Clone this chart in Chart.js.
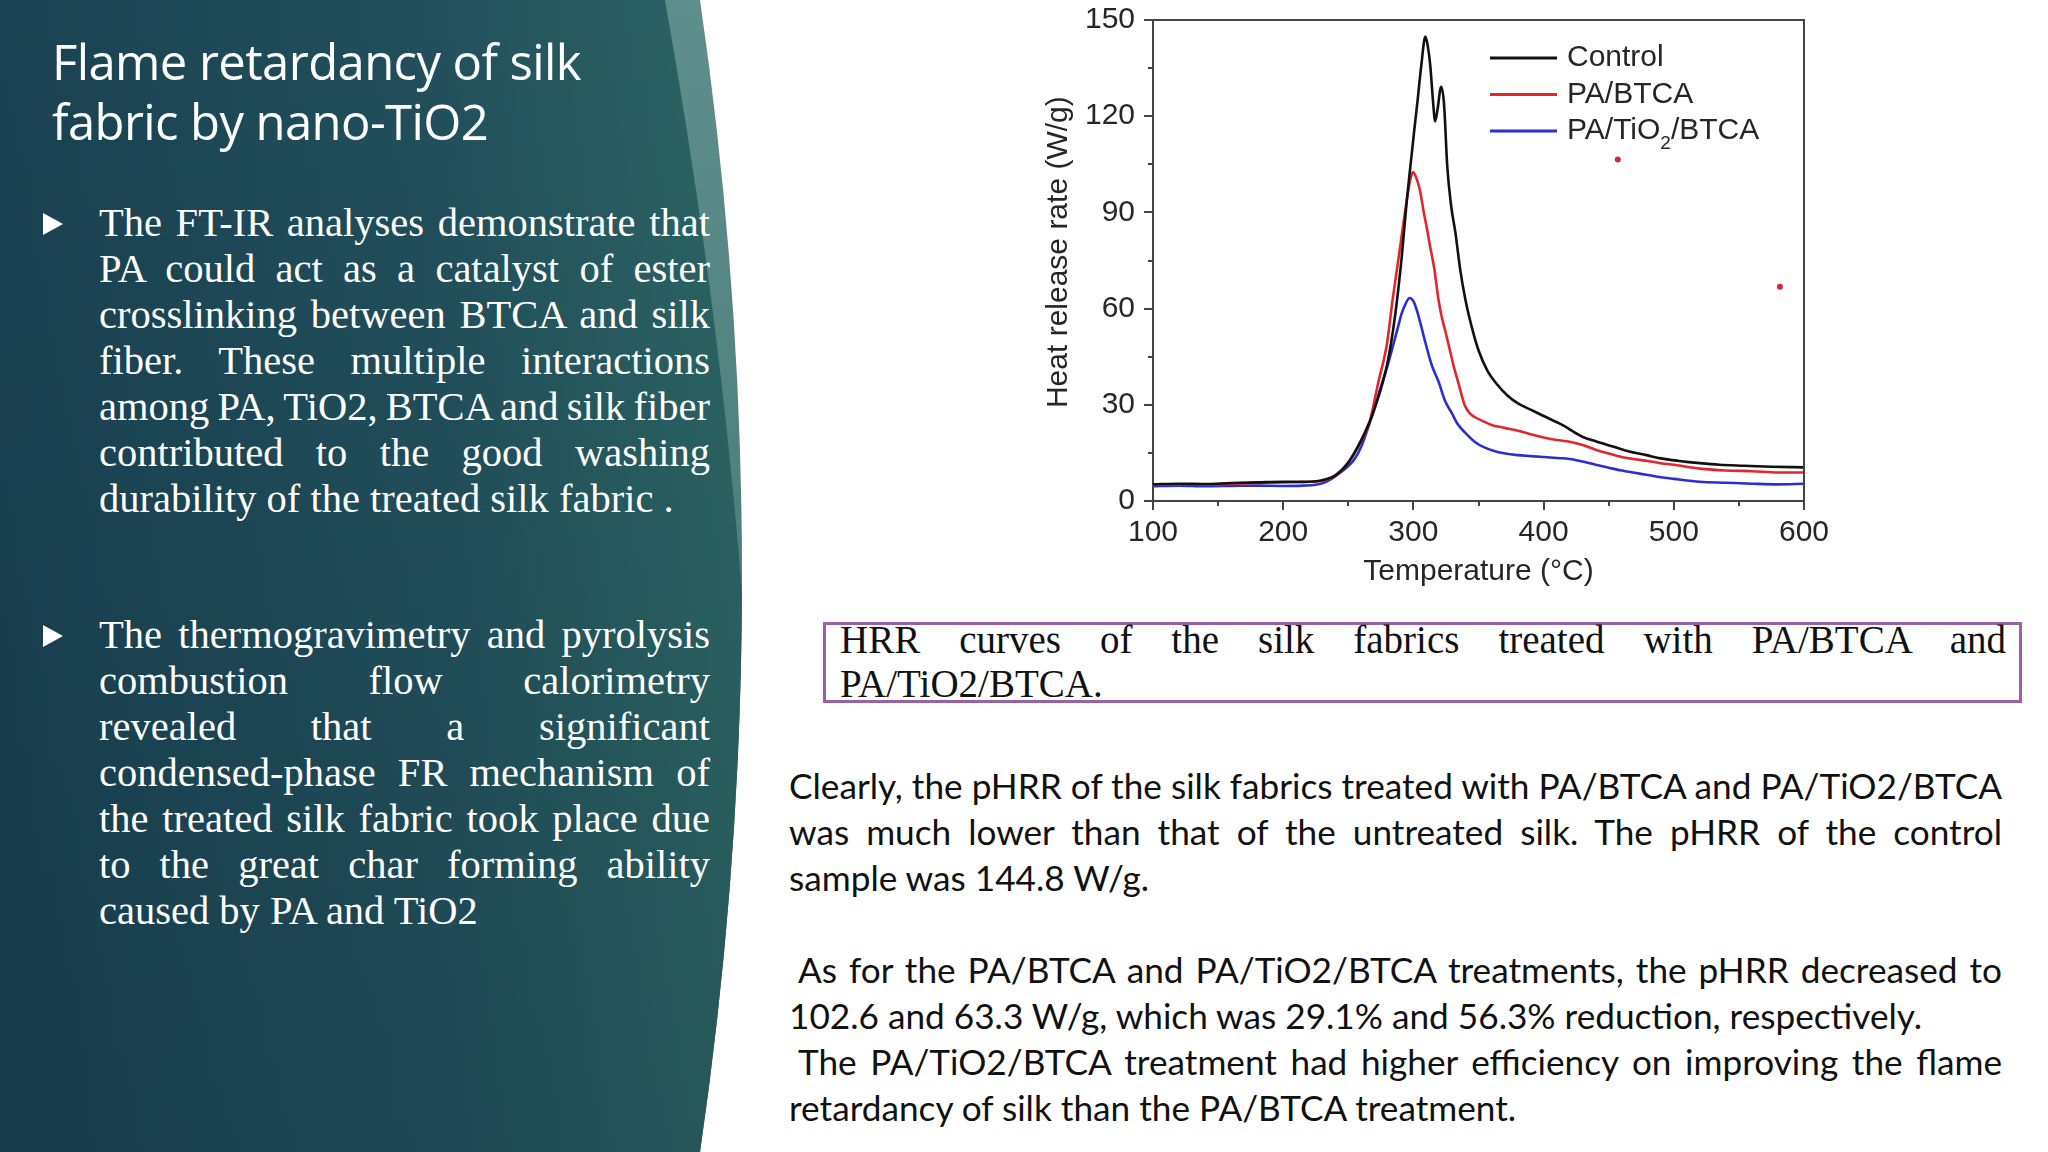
<!DOCTYPE html>
<html>
<head>
<meta charset="utf-8">
<script src="https://cdn.jsdelivr.net/npm/chart.js@4.4.1/dist/chart.umd.min.js"></script>
<style>
  html, body { margin: 0; padding: 0; }
  body { width: 2048px; height: 1152px; position: relative; overflow: hidden; background: #fff; }
  #bg { position: absolute; left: 0; top: 0; }
  .title { position: absolute; left: 52px; top: 31px; color: #fff; font-family: "Open Sans"; font-size: 49px; line-height: 60px; letter-spacing: -0.6px; }
  .para { position: absolute; left: 99px; width: 611px; color: #fff; font-family: "Liberation Serif"; font-size: 40.5px; line-height: 46px; }
  .para div, .caption .txt div, .body div { white-space: nowrap; }
  .tri { position: absolute; left: 43px; width: 0; height: 0; border-top: 11px solid transparent; border-bottom: 11px solid transparent; border-left: 20px solid #fff; }
  .caption { position: absolute; left: 823px; top: 622px; width: 1193px; height: 75px; border: 3px solid #9a62a6; }
  .caption .txt { position: absolute; left: 14px; top: -7px; width: 1166px; font-family: "Liberation Serif"; font-size: 39px; line-height: 44px; color: #111; }
  .body { position: absolute; left: 789px; top: 762px; width: 1213px; font-family: "Lato"; font-size: 35.2px; line-height: 46px; color: #111; }
  .ind { padding-left: 9px; }
  #wrap { position: absolute; left: 1030px; top: 0; width: 800px; height: 600px; }
</style>
</head>
<body>
<svg id="bg" width="2048" height="1152">
  <defs>
    <linearGradient id="panel" x1="0" y1="0" x2="1" y2="0">
      <stop offset="0" stop-color="#1a4252"/>
      <stop offset="0.55" stop-color="#22505c"/>
      <stop offset="1" stop-color="#2f6a66"/>
    </linearGradient>
    <linearGradient id="shade" x1="0" y1="0" x2="0" y2="1">
      <stop offset="0" stop-color="#0a1e2a" stop-opacity="0"/>
      <stop offset="1" stop-color="#0a1e2a" stop-opacity="0.18"/>
    </linearGradient>
    <linearGradient id="stripe" x1="0" y1="0" x2="0" y2="1">
      <stop offset="0" stop-color="#5f8f8d"/>
      <stop offset="0.55" stop-color="#4a7d79"/>
      <stop offset="1" stop-color="#2f6763"/>
    </linearGradient>
    <clipPath id="outer"><path d="M0,0 L700,0 Q784,576 700,1152 L0,1152 Z"/></clipPath>
  </defs>
  <path d="M0,0 L700,0 Q784,576 700,1152 L0,1152 Z" fill="url(#stripe)"/>
  <g clip-path="url(#outer)">
    <path d="M0,0 L665,0 Q722,320 744,620 L800,1152 L0,1152 Z" fill="url(#panel)"/>
    <path d="M0,0 L665,0 Q722,320 744,620 L800,1152 L0,1152 Z" fill="url(#shade)"/>
  </g>
</svg>

<div class="title">Flame retardancy of silk<br>fabric by nano-TiO2</div>

<div class="tri" style="top:213px"></div>
<div class="para" style="top:200px">
  <div class="j">The FT-IR analyses demonstrate that</div>
  <div class="j">PA could act as a catalyst of ester</div>
  <div class="j">crosslinking between BTCA and silk</div>
  <div class="j">fiber. These multiple interactions</div>
  <div class="j">among PA, TiO2, BTCA and silk fiber</div>
  <div class="j">contributed to the good washing</div>
  <div>durability of the treated silk fabric .</div>
</div>

<div class="tri" style="top:625px"></div>
<div class="para" style="top:612px">
  <div class="j">The thermogravimetry and pyrolysis</div>
  <div class="j">combustion flow calorimetry</div>
  <div class="j">revealed that a significant</div>
  <div class="j">condensed-phase FR mechanism of</div>
  <div class="j">the treated silk fabric took place due</div>
  <div class="j">to the great char forming ability</div>
  <div>caused by PA and TiO2</div>
</div>

<div class="caption">
  <div class="txt">
    <div class="j">HRR curves of the silk fabrics treated with PA/BTCA and</div>
    <div>PA/TiO2/BTCA.</div>
  </div>
</div>

<div class="body">
  <div class="j">Clearly, the pHRR of the silk fabrics treated with PA/BTCA and PA/TiO2/BTCA</div>
  <div class="j">was much lower than that of the untreated silk. The pHRR of the control</div>
  <div>sample was 144.8 W/g.</div>
  <div>&nbsp;</div>
  <div class="j ind">As for the PA/BTCA and PA/TiO2/BTCA treatments, the pHRR decreased to</div>
  <div>102.6 and 63.3 W/g, which was 29.1% and 56.3% reduction, respectively.</div>
  <div class="j ind">The PA/TiO2/BTCA treatment had higher efficiency on improving the flame</div>
  <div>retardancy of silk than the PA/BTCA treatment.</div>
</div>

<div id="wrap"><canvas id="hrr" width="800" height="600"></canvas></div>

<script>
// Temperature (°C) and heat release rate (W/g)
const controlT = [100, 120, 140, 160, 180, 200, 215, 230, 240, 250, 260, 270, 280, 286, 291, 295, 297.7, 300.5, 303.3, 306, 309.2, 311, 313, 315, 316.7, 318.5, 321.3, 323.5, 326, 329, 332.3, 336, 340, 345, 350, 357, 364, 372, 380, 390, 400, 414, 429, 440, 454, 465, 479, 490, 504, 520, 535, 554, 575, 600];
const controlHRR = [5.2, 5.4, 5.3, 5.6, 5.8, 6.0, 6.0, 6.5, 8.0, 12, 19, 28.6, 42.9, 58, 76, 94, 104.4, 115, 125.2, 135.6, 144.8, 142, 135.6, 125, 118.4, 122, 129.2, 124, 104.4, 92, 83.6, 72, 62.7, 54, 47, 40.5, 36.5, 33, 30.5, 28.5, 26.5, 23.8, 20.2, 18.6, 16.9, 15.5, 14.3, 13.3, 12.5, 11.8, 11.3, 11, 10.7, 10.5];

const pabtcaT = [100, 120, 140, 160, 180, 200, 215, 230, 240, 250, 260, 266, 273, 279.6, 284, 288, 291.3, 295, 297.5, 299.7, 302, 305, 308, 310.6, 313, 316, 319.3, 322, 324.5, 327, 331, 334.5, 339.5, 343, 347, 353, 359.5, 370, 379.5, 390, 400, 410, 420, 430, 440, 450, 460, 470, 480, 490, 500, 520, 540, 560, 580, 600];
const pabtcaHRR = [5.0, 5.2, 5.1, 5.4, 5.6, 5.8, 5.9, 6.3, 7.8, 12, 19, 24, 36.9, 48.8, 62.7, 74, 83.6, 94, 100, 102.6, 101, 97, 90, 84.5, 79, 72.6, 62.7, 57, 53, 48.8, 42, 36.9, 29.8, 27.5, 26.2, 25, 23.8, 22.8, 22, 20.8, 19.8, 19, 18.5, 17.5, 16, 14.8, 13.7, 13, 12.5, 11.8, 11.3, 10.1, 9.5, 9.3, 8.9, 8.9];

const patioT = [100, 120, 140, 160, 180, 200, 215, 230, 242, 254.7, 260, 267, 276, 280, 284.6, 288, 291, 294, 297, 300, 303, 306, 309.6, 314, 319.6, 324, 329.5, 334, 339.5, 347, 354.5, 362, 369.5, 380, 390, 400, 410, 420, 430, 440, 450, 460, 470, 480, 490, 500, 520, 540, 560, 580, 600];
const patioHRR = [4.6, 4.8, 4.6, 4.7, 4.8, 4.7, 4.8, 5.5, 8.3, 13, 17, 25, 36.9, 42, 48.8, 54, 58.5, 61.5, 63.3, 62.3, 59, 54.5, 48.8, 42.5, 36.9, 31.5, 27.4, 24, 21.4, 18.5, 16.7, 15.6, 14.9, 14.3, 14, 13.7, 13.4, 13.1, 12.3, 11.3, 10.4, 9.5, 8.8, 8.1, 7.4, 6.9, 6, 5.7, 5.4, 5.2, 5.4];

// two stray red specks in the figure
const speckT = [457, 581.5];
const speckHRR = [106.5, 66.8];

const xTicks = [100, 200, 300, 400, 500, 600];
const xMinor = [150, 250, 350, 450, 550];
const yTicks = [0, 30, 60, 90, 120, 150];
const yMinor = [15, 45, 75, 105, 135];

// justify single lines by spreading the word gaps
document.querySelectorAll(".j").forEach((el) => {
  const target = el.clientWidth - (parseFloat(getComputedStyle(el).paddingLeft) || 0);
  const span = document.createElement("span");
  span.textContent = el.textContent.trim();
  el.textContent = "";
  el.appendChild(span);
  const natural = span.getBoundingClientRect().width;
  const gaps = (span.textContent.match(/ /g) || []).length;
  if (gaps) el.style.wordSpacing = (target - natural) / gaps + "px";
});

const toPoints = (t, v) => t.map((x, i) => ({ x, y: v[i] }));

const axisColor = "#444";
const textColor = "#262626";
const fontFamily = '"Liberation Sans", Arial, sans-serif';

// box top/right edges plus half-step minor ticks
const framePlugin = {
  id: "frame",
  afterDraw(chart) {
    const { ctx, chartArea } = chart;
    const xs = chart.scales.x;
    const ys = chart.scales.y;
    ctx.save();
    ctx.strokeStyle = axisColor;
    ctx.lineWidth = 2;
    ctx.beginPath();
    ctx.moveTo(chartArea.left, chartArea.top);
    ctx.lineTo(chartArea.right, chartArea.top);
    ctx.lineTo(chartArea.right, chartArea.bottom);
    ctx.stroke();
    ctx.beginPath();
    xMinor.forEach((v) => {
      const px = Math.round(xs.getPixelForValue(v));
      ctx.moveTo(px, chartArea.bottom);
      ctx.lineTo(px, chartArea.bottom + 5);
    });
    yMinor.forEach((v) => {
      const py = Math.round(ys.getPixelForValue(v));
      ctx.moveTo(chartArea.left - 5, py);
      ctx.lineTo(chartArea.left, py);
    });
    ctx.stroke();
    ctx.restore();
  },
};

// legend drawn inside the plot, with a subscript 2
const legendPlugin = {
  id: "insideLegend",
  afterDraw(chart) {
    const { ctx, chartArea } = chart;
    const sets = chart.data.datasets.filter((d) => !d.noLegend);
    ctx.save();
    ctx.textBaseline = "middle";
    ctx.fillStyle = textColor;
    sets.forEach((d, i) => {
      const y = chartArea.top + 38 + i * 36.5;
      const x0 = chartArea.left + 337;
      ctx.strokeStyle = d.borderColor;
      ctx.lineWidth = 3;
      ctx.beginPath();
      ctx.moveTo(x0, y);
      ctx.lineTo(x0 + 67, y);
      ctx.stroke();
      let tx = x0 + 77;
      const parts = d.label.split("₂");
      parts.forEach((p, k) => {
        ctx.font = "30px " + fontFamily;
        ctx.fillText(p, tx, y);
        tx += ctx.measureText(p).width;
        if (k < parts.length - 1) {
          ctx.font = "19px " + fontFamily;
          ctx.fillText("2", tx, y + 13);
          tx += ctx.measureText("2").width;
        }
      });
    });
    ctx.restore();
  },
};

new Chart(document.getElementById("hrr"), {
  type: "line",
  data: {
    datasets: [
      { label: "Control", data: toPoints(controlT, controlHRR), borderColor: "#111111" },
      { label: "PA/BTCA", data: toPoints(pabtcaT, pabtcaHRR), borderColor: "#e3262e" },
      { label: "PA/TiO₂/BTCA", data: toPoints(patioT, patioHRR), borderColor: "#2e2ed0" },
      {
        label: "specks",
        type: "scatter",
        noLegend: true,
        data: toPoints(speckT, speckHRR),
        pointRadius: 3,
        pointBackgroundColor: "#d02a3a",
        pointBorderWidth: 0,
        showLine: false,
      },
    ],
  },
  options: {
    responsive: false,
    animation: false,
    devicePixelRatio: 1,
    layout: { padding: { top: 20, right: 26, left: 0, bottom: 0 } },
    plugins: { legend: { display: false }, tooltip: { enabled: false } },
    elements: {
      point: { radius: 0 },
      line: { borderWidth: 2.6, cubicInterpolationMode: "monotone", fill: false },
    },
    scales: {
      x: {
        type: "linear",
        min: 100,
        max: 600,
        afterBuildTicks: (s) => { s.ticks = xTicks.map((v) => ({ value: v })); },
        afterFit: (s) => { s.height = 99; s.paddingLeft = 0; s.paddingRight = 0; },
        grid: { drawOnChartArea: false, tickLength: 9, color: axisColor, lineWidth: 2 },
        border: { color: axisColor, width: 2 },
        ticks: { font: { family: fontFamily, size: 30 }, color: textColor, padding: 5, maxRotation: 0, autoSkip: false },
        title: { display: true, text: "Temperature (°C)", font: { family: fontFamily, size: 30 }, color: textColor, padding: { top: 0, bottom: 10 } },
      },
      y: {
        min: 0,
        max: 150,
        afterBuildTicks: (s) => { s.ticks = yTicks.map((v) => ({ value: v })); },
        afterFit: (s) => { s.width = 123; s.paddingTop = 0; s.paddingBottom = 0; },
        grid: { drawOnChartArea: false, tickLength: 9, color: axisColor, lineWidth: 2 },
        border: { color: axisColor, width: 2 },
        ticks: { font: { family: fontFamily, size: 30 }, color: textColor, padding: 9 },
        title: { display: true, text: "  Heat release rate (W/g)", font: { family: fontFamily, size: 30 }, color: textColor, padding: { top: 11, bottom: 0 } },
      },
    },
  },
  plugins: [framePlugin, legendPlugin],
});
</script>
</body>
</html>
